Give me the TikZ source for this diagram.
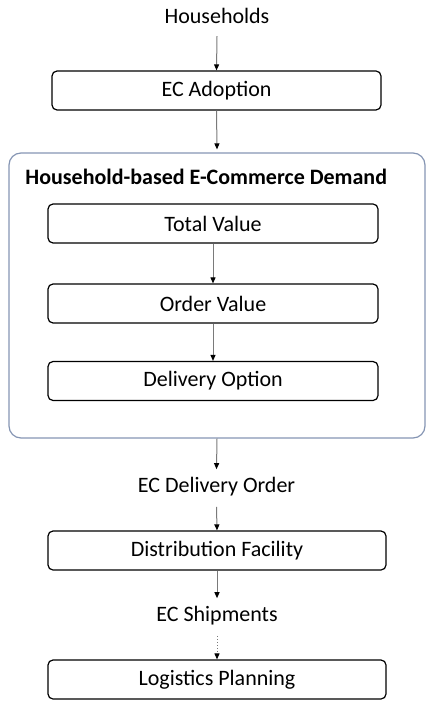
\documentclass[tikz,border=0pt]{standalone}
\usepackage{fontspec}
\setmainfont{Carlito}
\usetikzlibrary{arrows.meta}
\definecolor{framecol}{HTML}{8595B3}
\definecolor{linecol}{HTML}{7A7A7A}
\begin{document}
\begin{tikzpicture}[x=0.5pt,y=-0.5pt,
  font=\fontsize{11pt}{13pt}\selectfont,
  stepbox/.style={draw=black,line width=0.6pt,rounded corners=2.5pt,minimum height=19.5pt,inner sep=0pt},
  bigbox/.style={draw=framecol,line width=0.6pt,rounded corners=6pt,inner sep=0pt},
  plain/.style={inner sep=2pt},
  arr/.style={draw=linecol,line width=0.5pt,-{Triangle[black,length=3pt,width=2.5pt]}}]
\useasboundingbox (0,0) rectangle (437,711);
\node[plain] (hh) at (217,16) {Households};
\node[stepbox,minimum width=164.5pt] (eca) at (216.5,90.5) {EC Adoption};
\node[bigbox,minimum width=208pt,minimum height=142.5pt] (dem) at (217,295.5) {};
\node[anchor=west,inner sep=0pt,font=\fontsize{11pt}{13pt}\selectfont\bfseries] (title) at (25,177) {Household-based E-Commerce Demand};
\node[stepbox,minimum width=165pt] (tv) at (213,223.5) {Total Value};
\node[stepbox,minimum width=165pt] (ov) at (213,303.5) {Order Value};
\node[stepbox,minimum width=165pt] (do) at (213,381) {Delivery Option};
\node[plain] (edo) at (216.5,487) {EC Delivery Order};
\node[stepbox,minimum width=169pt] (df) at (217,550.5) {Distribution Facility};
\node[plain] (ecs) at (217,616) {EC Shipments};
\node[stepbox,minimum width=169pt] (lp) at (217,679.5) {Logistics Planning};
\draw[arr] ([yshift=-4pt]hh.south) -- (eca.north);
\draw[arr] (eca.south) -- ([yshift=1.5pt]dem.north);
\draw[arr] (tv.south) -- (ov.north);
\draw[arr] (ov.south) -- (do.north);
\draw[arr] (dem.south) -- ([yshift=2pt]edo.north);
\draw[arr] ([yshift=-3pt]edo.south) -- (df.north);
\draw[arr] (df.south) -- ([yshift=2pt]ecs.north);
\draw[arr,densely dotted] ([yshift=-3pt]ecs.south) -- (lp.north);
\end{tikzpicture}
\end{document}
